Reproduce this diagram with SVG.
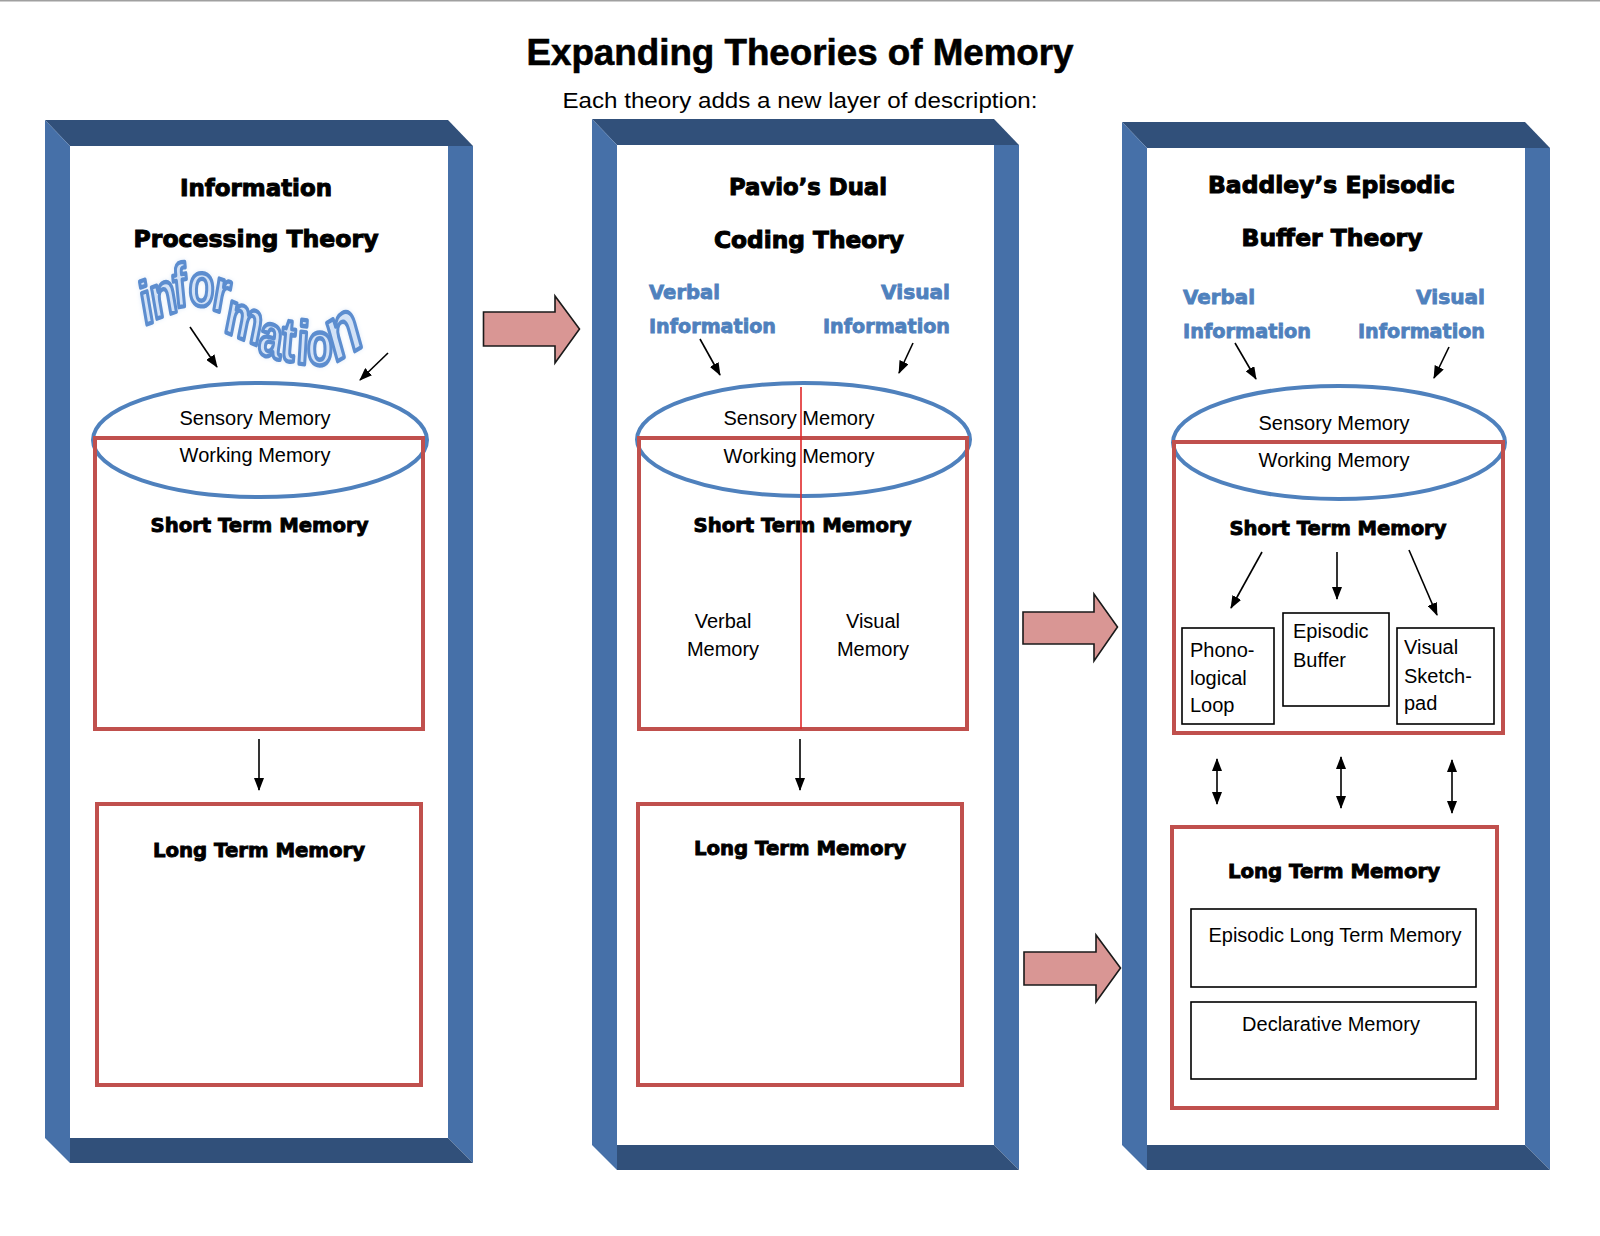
<svg xmlns="http://www.w3.org/2000/svg" width="1600" height="1236" viewBox="0 0 1600 1236">
<defs>
<style>
.fd{fill:#31507A}
.fl{fill:#4670A8}
.title{font-family:"Liberation Sans",Arial,sans-serif;font-weight:bold;font-size:36px;text-anchor:middle;fill:#000;stroke:#000;stroke-width:0.6}
.subt{font-family:"Liberation Sans",Arial,sans-serif;font-size:22px;text-anchor:middle;fill:#000}
.hd{font-family:"DejaVu Sans",sans-serif;font-weight:bold;font-size:23px;text-anchor:middle;fill:#000;stroke:#000;stroke-width:1}
.hs{font-family:"DejaVu Sans",sans-serif;font-weight:bold;font-size:19.5px;text-anchor:middle;fill:#000;stroke:#000;stroke-width:0.9}
.bl{font-family:"DejaVu Sans",sans-serif;font-weight:bold;font-size:19px;fill:#4F81BD;stroke:#4F81BD;stroke-width:0.8}
.t{font-family:"Liberation Sans",Arial,sans-serif;font-size:20px;fill:#000}
.tm{text-anchor:middle}
.ell{fill:none;stroke:#4F81BD;stroke-width:4}
.red{fill:none;stroke:#C0504D;stroke-width:4}
.box{fill:#fff;stroke:#000;stroke-width:1.6}
.ar{fill:none;stroke:#000;stroke-width:1.6;marker-end:url(#ah)}
.ar2{fill:none;stroke:#000;stroke-width:1.6;marker-end:url(#ah);marker-start:url(#ahs)}
.blk{fill:#D99694;stroke:#1A1A1A;stroke-width:1.6;stroke-linejoin:miter}
.wa{font-family:"Liberation Sans",Arial,sans-serif;font-weight:bold;font-size:42px;fill:#D3E2F6;stroke:#5C8DCF;stroke-width:3;stroke-linejoin:round}
</style>
<marker id="ah" markerUnits="userSpaceOnUse" markerWidth="13" markerHeight="10" refX="12" refY="5" orient="auto">
<path d="M0,0 L13,5 L0,10 z" fill="#000"/>
</marker>
<marker id="ahs" markerUnits="userSpaceOnUse" markerWidth="13" markerHeight="10" refX="1" refY="5" orient="auto">
<path d="M13,0 L0,5 L13,10 z" fill="#000"/>
</marker>
<filter id="glow" x="-10%" y="-20%" width="120%" height="140%">
<feGaussianBlur in="SourceAlpha" stdDeviation="2"/>
<feComponentTransfer><feFuncA type="linear" slope="0.35"/></feComponentTransfer>
<feColorMatrix type="matrix" values="0 0 0 0 0.36  0 0 0 0 0.55  0 0 0 0 0.81  0 0 0 1 0"/>
<feMerge><feMergeNode/><feMergeNode in="SourceGraphic"/></feMerge>
</filter>
</defs>
<rect x="0" y="0" width="1600" height="1236" fill="#fff"/>
<rect x="0" y="0" width="1600" height="1.5" fill="#A0A0A0"/>

<g id="title">
<text class="title" x="800" y="65" textLength="547" lengthAdjust="spacingAndGlyphs">Expanding Theories of Memory</text>
<text class="subt" x="800" y="108" textLength="475" lengthAdjust="spacingAndGlyphs">Each theory adds a new layer of description:</text>
</g>

<g id="frame-left">
<polygon class="fd" points="45,120 448,120 473,146 70,146"/>
<polygon class="fl" points="45,120 70,146 70,1163 45,1138"/>
<polygon class="fl" points="448,146 473,146 473,1163 448,1138"/>
<polygon class="fd" points="70,1138 448,1138 473,1163 70,1163"/>
</g>
<g id="frame-middle">
<polygon class="fd" points="592,119 994,119 1019,145 617,145"/>
<polygon class="fl" points="592,119 617,145 617,1170 592,1145"/>
<polygon class="fl" points="994,145 1019,145 1019,1170 994,1145"/>
<polygon class="fd" points="617,1145 994,1145 1019,1170 617,1170"/>
</g>
<g id="frame-right">
<polygon class="fd" points="1122,122 1525,122 1550,148 1147,148"/>
<polygon class="fl" points="1122,122 1147,148 1147,1170 1122,1145"/>
<polygon class="fl" points="1525,148 1550,148 1550,1170 1525,1145"/>
<polygon class="fd" points="1147,1145 1525,1145 1550,1170 1147,1170"/>
</g>

<g id="left-heading">
<text class="hd" x="256" y="196" textLength="152" lengthAdjust="spacingAndGlyphs">Information</text>
<text class="hd" x="256" y="247" textLength="245" lengthAdjust="spacingAndGlyphs">Processing Theory</text>
</g>
<g id="left-wordart" filter="url(#glow)">
<text class="wa" transform="matrix(1,0,0,1.45,0,-153)" x="144 154 175 188 211 223 257 280 296 307 334" y="330 326 318 315.5 318.5 334 349 353.5 356 357.5 356" rotate="-14 -14 -8 4 14 16 12 7 5 0 -22">informatio<tspan style="font-size:54px">n</tspan></text>
</g>
<g id="left-sensory">
<ellipse class="ell" cx="260" cy="440" rx="167" ry="57"/>
<text class="t tm" x="255" y="425">Sensory Memory</text>
<text class="t tm" x="255" y="462">Working Memory</text>
</g>
<g id="left-stm">
<rect class="red" x="95" y="438" width="328" height="291"/>
<text class="hs" x="259.5" y="532" textLength="218" lengthAdjust="spacingAndGlyphs">Short Term Memory</text>
</g>
<g id="left-ltm">
<rect class="red" x="97" y="804" width="324" height="281"/>
<text class="hs" x="259" y="857" textLength="212" lengthAdjust="spacingAndGlyphs">Long Term Memory</text>
</g>

<g id="mid-heading">
<text class="hd" x="808" y="195" textLength="158" lengthAdjust="spacingAndGlyphs">Pavio’s Dual</text>
<text class="hd" x="809" y="248" textLength="190" lengthAdjust="spacingAndGlyphs">Coding Theory</text>
</g>
<g id="mid-verbal-info">
<text class="bl" x="649" y="299" textLength="71" lengthAdjust="spacingAndGlyphs">Verbal</text>
<text class="bl" x="649" y="333" textLength="127" lengthAdjust="spacingAndGlyphs">Information</text>
</g>
<g id="mid-visual-info">
<text class="bl" x="950" y="299" text-anchor="end" textLength="69" lengthAdjust="spacingAndGlyphs">Visual</text>
<text class="bl" x="950" y="333" text-anchor="end" textLength="127" lengthAdjust="spacingAndGlyphs">Information</text>
</g>
<g id="mid-sensory">
<ellipse class="ell" cx="803.5" cy="439.5" rx="166.5" ry="56.5"/>
<text class="t tm" x="799" y="425">Sensory Memory</text>
<text class="t tm" x="799" y="463">Working Memory</text>
</g>
<g id="mid-stm">
<rect class="red" x="639" y="438" width="328" height="291"/>
<text class="hs" x="802.5" y="532" textLength="218" lengthAdjust="spacingAndGlyphs">Short Term Memory</text>
<text class="t tm" x="723" y="628">Verbal</text>
<text class="t tm" x="723" y="656">Memory</text>
<text class="t tm" x="873" y="628">Visual</text>
<text class="t tm" x="873" y="656">Memory</text>
<line x1="801" y1="387" x2="801" y2="729" stroke="#E0282A" stroke-width="1.6"/>
</g>
<g id="mid-ltm">
<rect class="red" x="638" y="804" width="324" height="281"/>
<text class="hs" x="800" y="855" textLength="212" lengthAdjust="spacingAndGlyphs">Long Term Memory</text>
</g>

<g id="right-heading">
<text class="hd" x="1331.5" y="193" textLength="247" lengthAdjust="spacingAndGlyphs">Baddley’s Episodic</text>
<text class="hd" x="1332" y="246" textLength="181" lengthAdjust="spacingAndGlyphs">Buffer Theory</text>
</g>
<g id="right-verbal-info">
<text class="bl" x="1183" y="304" textLength="72" lengthAdjust="spacingAndGlyphs">Verbal</text>
<text class="bl" x="1183" y="338" textLength="128" lengthAdjust="spacingAndGlyphs">Information</text>
</g>
<g id="right-visual-info">
<text class="bl" x="1485" y="304" text-anchor="end" textLength="69" lengthAdjust="spacingAndGlyphs">Visual</text>
<text class="bl" x="1485" y="338" text-anchor="end" textLength="127" lengthAdjust="spacingAndGlyphs">Information</text>
</g>
<g id="right-sensory">
<ellipse class="ell" cx="1339" cy="442.5" rx="166" ry="56.5"/>
<text class="t tm" x="1334" y="430">Sensory Memory</text>
<text class="t tm" x="1334" y="467">Working Memory</text>
</g>
<g id="right-stm">
<rect class="red" x="1174" y="442" width="329" height="291"/>
<text class="hs" x="1338" y="535" textLength="217" lengthAdjust="spacingAndGlyphs">Short Term Memory</text>
</g>
<g id="right-phono">
<rect class="box" x="1182" y="628" width="92" height="96"/>
<text class="t" x="1190" y="657">Phono-</text>
<text class="t" x="1190" y="685">logical</text>
<text class="t" x="1190" y="712">Loop</text>
</g>
<g id="right-episodic-buffer">
<rect class="box" x="1283" y="613" width="106" height="93"/>
<text class="t" x="1293" y="638">Episodic</text>
<text class="t" x="1293" y="667">Buffer</text>
</g>
<g id="right-sketchpad">
<rect class="box" x="1397" y="628" width="97" height="96"/>
<text class="t" x="1404" y="654">Visual</text>
<text class="t" x="1404" y="683">Sketch-</text>
<text class="t" x="1404" y="710">pad</text>
</g>
<g id="right-ltm">
<rect class="red" x="1172" y="827" width="325" height="281"/>
<text class="hs" x="1334" y="878" textLength="212" lengthAdjust="spacingAndGlyphs">Long Term Memory</text>
</g>
<g id="right-episodic-ltm">
<rect class="box" x="1191" y="909" width="285" height="78"/>
<text class="t tm" x="1335" y="942">Episodic Long Term Memory</text>
</g>
<g id="right-declarative">
<rect class="box" x="1191" y="1002" width="285" height="77"/>
<text class="t tm" x="1331" y="1031">Declarative Memory</text>
</g>

<g id="connectors">
<line class="ar" x1="190" y1="327" x2="217" y2="367"/>
<line class="ar" x1="388" y1="353" x2="360" y2="380"/>
<line class="ar" x1="259" y1="739" x2="259" y2="790"/>
<line class="ar" x1="700" y1="339" x2="720" y2="375"/>
<line class="ar" x1="913" y1="343" x2="899" y2="373"/>
<line class="ar" x1="800" y1="739" x2="800" y2="790"/>
<line class="ar" x1="1235" y1="343" x2="1256" y2="379"/>
<line class="ar" x1="1449" y1="347" x2="1434" y2="378"/>
<line class="ar" x1="1262" y1="552" x2="1231" y2="608"/>
<line class="ar" x1="1337" y1="552" x2="1337" y2="599"/>
<line class="ar" x1="1409" y1="550" x2="1437" y2="615"/>
<line class="ar2" x1="1217" y1="759" x2="1217" y2="804"/>
<line class="ar2" x1="1341" y1="757" x2="1341" y2="808"/>
<line class="ar2" x1="1452" y1="760" x2="1452" y2="813"/>
<polygon class="blk" points="483.5,312 555,312 555,296 579.5,329 555,363 555,346 483.5,346"/>
<polygon class="blk" points="1023,612 1094,612 1094,594 1117.5,627 1094,661 1094,644 1023,644"/>
<polygon class="blk" points="1024,952 1096,952 1096,935 1120.5,968 1096,1002 1096,985 1024,985"/>
</g>
</svg>
